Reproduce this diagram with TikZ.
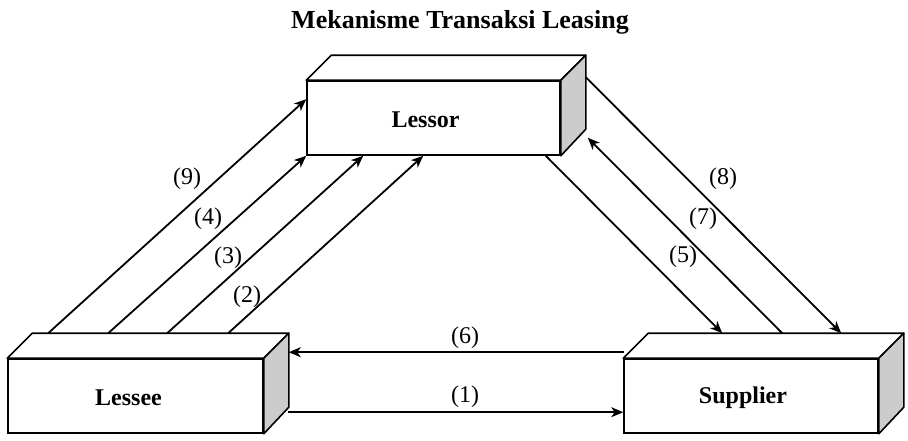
\documentclass[tikz,border=0pt]{standalone}
\usepackage{fontspec}
\setmainfont{Liberation Serif}
\usetikzlibrary{calc,arrows.meta}
\begin{document}
\begin{tikzpicture}[x=1pt,y=-1pt,
  face/.style={draw,line width=1.6pt,fill=white,inner sep=0pt,minimum height=74pt},
  boxtext/.style={font=\fontsize{24}{28}\selectfont\bfseries},
  lbl/.style={font=\fontsize{24}{28}\selectfont,inner sep=0pt},
  flow/.style={line width=1.8pt,-{Stealth[length=12pt,width=10pt,inset=3.5pt]}},
  side/.style={draw,line width=1.6pt,fill=black!20,line join=round},
  topf/.style={draw,line width=1.6pt,fill=white,line join=round}]
\useasboundingbox (0,0) rectangle (908,440);
\node[font=\fontsize{26}{30}\selectfont\bfseries] (title) at (460,22) {Mekanisme Transaksi Leasing};
% boxes
\node[face,minimum width=253pt] (lessor) at (433.5,118) {};
\node[face,minimum width=255pt] (lessee) at (135.5,396) {};
\node[face,minimum width=254pt] (supplier) at (751,396) {};
\foreach \b in {lessor,lessee,supplier}{
  \path[topf] (\b.north west) -- ++(25,-25) -- ($(\b.north east)+(25,-25)$) -- (\b.north east) -- cycle;
  \path[side] (\b.north east) -- ++(25,-25) -- ++(0,74) -- (\b.south east) -- cycle;
}
\node[boxtext] (lessortext) at ($(lessor.center)+(-8,2)$) {Lessor};
\node[boxtext] (lesseetext) at ($(lessee.center)+(-7,2)$) {Lessee};
\node[boxtext] (suppliertext) at ($(supplier.center)+(-8,2)$) {Supplier};
% left arrows
\draw[flow] ($(lessee.north west)+(41,-25)$) -- ($(lessor.north west)+(0,19)$);
\draw[flow] ($(lessee.north west)+(101,-25)$) -- (lessor.south west);
\draw[flow] ($(lessee.north west)+(160,-25)$) -- ($(lessor.south west)+(57,0)$);
\draw[flow] ($(lessee.north west)+(221,-25)$) -- ($(lessor.south west)+(117,0)$);
% right arrows
\draw[flow] ($(lessor.south east)+(-15,0)$) -- ($(supplier.north west)+(99,-25)$);
\draw[flow] ($(supplier.north west)+(159,-25)$) -- ($(lessor.south east)+(27,-18)$);
\draw[flow] ($(lessor.north east)+(25,-3)$) -- ($(supplier.north west)+(218,-25)$);
% horizontal arrows
\draw[flow] ($(supplier.north west)+(1,-6)$) -- ($(lessee.north east)+(25,-6)$);
\draw[flow] ($(lessee.north east)+(24,54)$) -- ($(supplier.north west)+(0,54)$);
% labels
\node[lbl] (n9) at (187,179) {(9)};
\node[lbl] (n4) at (208,219) {(4)};
\node[lbl] (n3) at (228,258) {(3)};
\node[lbl] (n2) at (247,297) {(2)};
\node[lbl] (n8) at (723,179) {(8)};
\node[lbl] (n7) at (703,219) {(7)};
\node[lbl] (n5) at (683,257) {(5)};
\node[lbl] (n6) at (465,338) {(6)};
\node[lbl] (n1) at (465,397) {(1)};
\end{tikzpicture}
\end{document}
